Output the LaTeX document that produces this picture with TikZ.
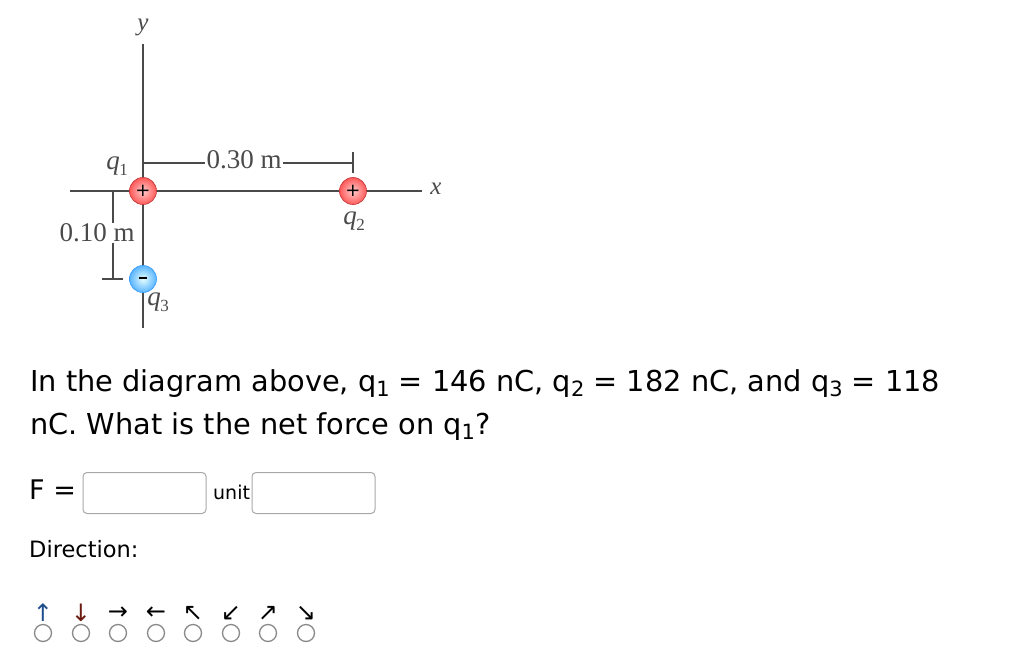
\documentclass[tikz,border=0pt]{standalone}
\usepackage{fontspec}
\setmainfont{DejaVu Sans}
\newfontfamily\figfont{Liberation Serif}
\usetikzlibrary{arrows.meta}

\definecolor{axisgray}{HTML}{4A4A4A}
\definecolor{boxgray}{HTML}{A8A8A8}
\definecolor{radiogray}{HTML}{8A8A8A}
\definecolor{arrowblue}{HTML}{1F4E8C}
\definecolor{arrowred}{HTML}{6B1A10}

\newcommand\qsub[1]{q\raisebox{-0.35ex}{\fontsize{21}{21}\selectfont #1}}
\newcommand\qlab[1]{{\itshape q}\kern-0.5pt\raisebox{-0.45ex}{\fontsize{17}{17}\selectfont #1}}

\begin{document}
\begin{tikzpicture}[x=1pt,y=-1pt,
  axis/.style={draw=axisgray, line width=1.3pt},
  dimline/.style={draw=axisgray, line width=1.2pt},
  figlabel/.style={font=\figfont\fontsize{27}{27}\selectfont, text=axisgray, inner sep=1pt},
  poscharge/.style={circle, minimum size=27pt, inner sep=0pt, shade, inner color=red!20, outer color=red!65!white, draw=red!70!black!80, line width=0.6pt, font=\fontsize{18}{18}\selectfont},
  negcharge/.style={circle, minimum size=27pt, inner sep=0pt, shade, inner color=cyan!10, outer color=cyan!55!blue!65, draw=blue!50!cyan!80, line width=0.6pt, font=\fontsize{18}{18}\selectfont},
  answerbox/.style={draw=boxgray, line width=1pt, rounded corners=4pt, minimum width=123pt, minimum height=41pt},
  radio/.style={circle, draw=radiogray, line width=1.3pt, minimum size=17pt, inner sep=0pt},
  arrowglyph/.style={font=\fontsize{24}{24}\selectfont, inner sep=0pt}]
\useasboundingbox (0,0) rectangle (1024,666);

% axes
\coordinate (ytop) at (143,44);
\coordinate (ybot) at (143,328);
\coordinate (xleft) at (70,191);
\coordinate (xright) at (422,191);
\draw[axis] (ybot) -- (ytop);
\draw[axis] (xleft) -- (xright);
\node[figlabel, font=\figfont\itshape\fontsize{25}{25}\selectfont] (ylab) at (143,27) {y};
\node[figlabel, font=\figfont\itshape\fontsize{25}{25}\selectfont] (xlab) at (436,189) {x};

% charges
\node[poscharge] (q1) at (143,191) {+};
\node[poscharge] (q2) at (353,191) {+};
\node[negcharge] (q3) at (143,279) {\raisebox{0.25ex}{\rule{8pt}{1.6pt}}};
\node[figlabel] (q1lab) at (117,166) {\qlab{1}};
\node[figlabel] (q2lab) at (354,221) {\qlab{2}};
\node[figlabel] (q3lab) at (158,302) {\qlab{3}};

% 0.30 m
\coordinate (dleft) at (143,163);
\coordinate (dright) at (353,163);
\coordinate (ticktop) at (353,152);
\coordinate (tickbot) at (353,173);
\node[figlabel, fill=white] (d30) at (244,160) {0.30 m};
\draw[dimline] (dleft) -- (dleft -| d30.west);
\draw[dimline] (dright -| d30.east) -- (dright);
\draw[dimline] (ticktop) -- (tickbot);

% 0.10 m
\coordinate (vtop) at (113,191);
\coordinate (vbot) at (113,279);
\coordinate (tickl) at (102,279);
\coordinate (tickr) at (123,279);
\node[figlabel] (d10) at (97,233) {0.10 m};
\draw[dimline] (vtop) -- (vtop |- d10.north);
\draw[dimline] (vbot |- d10.south) -- (vbot);
\draw[dimline] (tickl) -- (tickr);

% question
\node[anchor=base west, inner sep=0pt, font=\fontsize{28.8}{28.8}\selectfont] (line1) at (30,391)
  {In the diagram above, \qsub{1} = 146 nC, \qsub{2} = 182 nC, and \qsub{3} = 118};
\node[anchor=base west, inner sep=0pt, font=\fontsize{28.8}{28.8}\selectfont] (line2) at (30,434)
  {nC. What is the net force on \qsub{1}?};

\node[anchor=base west, inner sep=0pt, font=\fontsize{27}{27}\selectfont] (flab) at (29,499) {F =};
\node[answerbox] (fbox) at (144.5,493) {};
\node[anchor=base west, inner sep=0pt, font=\fontsize{19}{19}\selectfont] (unitlab) at (213,499) {unit};
\node[answerbox] (unitbox) at (313.5,493) {};

\node[anchor=base west, inner sep=0pt, font=\fontsize{22.5}{22.5}\selectfont] (dirlab) at (29,557) {Direction:};

% choices
\foreach \i/\xx/\ar/\col in {1/43/↑/arrowblue, 2/81/↓/arrowred, 3/118/→/black, 4/156/←/black,
  5/193/↖/black, 6/231/↙/black, 7/268/↗/black, 8/306/↘/black}
{
  \node[radio] (r\i) at (\xx,633) {};
  \node[arrowglyph, text=\col] (a\i) at (\xx,613) {\ar};
}
\end{tikzpicture}
\end{document}
